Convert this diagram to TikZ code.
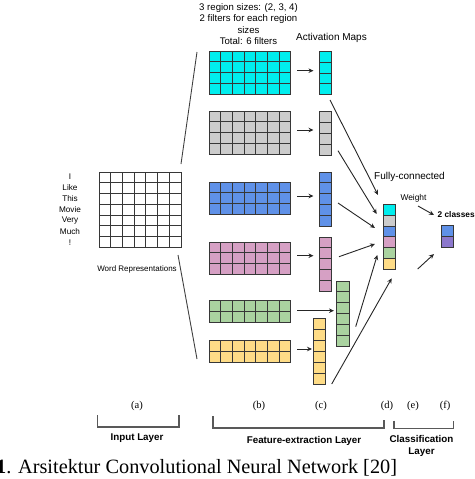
\documentclass[tikz,border=0pt]{standalone}
\usepackage{fontspec}
\setmainfont{Liberation Sans}
\newfontfamily\serifcap{Liberation Serif}
\usetikzlibrary{arrows.meta}
\definecolor{ccyan}{RGB}{0,238,238}
\definecolor{cgray}{RGB}{204,204,204}
\definecolor{cblue}{RGB}{95,145,232}
\definecolor{cpink}{RGB}{214,160,196}
\definecolor{cgreen}{RGB}{170,211,160}
\definecolor{cyellow}{RGB}{254,220,135}
\definecolor{cpurple}{RGB}{140,120,205}
\definecolor{edge}{RGB}{55,55,55}
\tikzset{
  cellline/.style={draw=edge, line width=0.9pt},
  outline/.style={draw=none, inner sep=0pt, outer sep=0pt},
  arr/.style={draw=black!85, line width=0.9pt, -{Stealth[length=5pt,width=4.5pt]}},
  thin line/.style={draw=black!75, line width=0.9pt},
  brk/.style={draw=black!65, line width=1.1pt},
  lbl/.style={font=\fontsize{9.6}{11.4}\selectfont, inner sep=0pt, align=center},
  small/.style={font=\fontsize{8.2}{9}\selectfont, inner sep=0pt},
  letter/.style={font=\serifcap\fontsize{10.5}{12}\selectfont, inner sep=0pt},
  layer/.style={font=\bfseries\fontsize{9.8}{11.5}\selectfont, inner sep=0pt, align=center},
}
% name, x, y, cols, rows, cw, ch, color
\newcommand\mygrid[8]{%
  \foreach \i in {1,...,#4}{\foreach \j in {1,...,#5}{%
    \path[cellline, fill=#8] ({#2+(\i-1)*#6},{#3+(\j-1)*#7}) rectangle ++(#6,#7);}}%
  \node[outline, anchor=north west, minimum width=#4*#6pt, minimum height=#5*#7pt] (#1) at (#2,#3) {};%
}
\begin{document}
\begin{tikzpicture}[x=1pt,y=-1pt]
\useasboundingbox (0,0) rectangle (474,479);
% input
\mygrid{inp}{99}{172}{7}{7}{11.71}{10.75}{white}
\foreach \w [count=\k] in {I,Like,This,Movie,Very,Much,!}{
  \node[small] (w\k) at (70,{166+\k*10.9}) {\w};
}
\node[small, font=\fontsize{8}{9}\selectfont] (wr) at (137,269) {Word Representations};
% filters
\mygrid{cyanF}{209}{51}{7}{4}{11.7}{10.9}{ccyan}
\mygrid{grayF}{209}{111}{7}{4}{11.7}{10.9}{cgray}
\mygrid{blueF}{209}{182}{7}{3}{11.7}{10.9}{cblue}
\mygrid{pinkF}{209}{242}{7}{3}{11.7}{10.9}{cpink}
\mygrid{greenF}{209}{300}{7}{2}{11.7}{11.1}{cgreen}
\mygrid{yellowF}{209}{340}{7}{2}{11.7}{11.1}{cyellow}
% activation maps
\mygrid{cyanA}{319.5}{51.5}{1}{4}{12.2}{10.8}{ccyan}
\mygrid{grayA}{319.5}{111}{1}{4}{12.2}{11}{cgray}
\mygrid{blueA}{319.5}{172}{1}{5}{12.2}{10.8}{cblue}
\mygrid{pinkA}{319.5}{237}{1}{5}{12.2}{10.8}{cpink}
\mygrid{greenA}{336.8}{281}{1}{6}{12.2}{10.85}{cgreen}
\mygrid{yellowA}{313.5}{318}{1}{6}{12.2}{11}{cyellow}
% fully connected
\foreach \c [count=\k] in {ccyan,cgray,cblue,cpink,cgreen,cyellow}{
  \path[cellline, fill=\c] (383.5,{204.3+(\k-1)*10.85}) rectangle ++(11.7,10.85);
}
\node[outline, anchor=north west, minimum width=11.7pt, minimum height=65.1pt] (fc) at (383.5,204.3) {};
% output
\path[cellline, fill=cblue] (441,225.7) rectangle ++(12.3,11);
\path[cellline, fill=cpurple] (441,236.7) rectangle ++(12.3,11);
\node[outline, anchor=north west, minimum width=12.3pt, minimum height=22pt] (outc) at (441,225.7) {};
% texts
\node[lbl] (top) at (248.5,24) {3 region sizes: (2, 3, 4)\\2 filters for each region\\sizes\\Total: 6 filters};
\node[lbl, font=\fontsize{10}{12}\selectfont] (am) at (331.5,37.7) {Activation Maps};
\node[lbl, font=\fontsize{10}{12}\selectfont] (fcl) at (409.5,176.7) {Fully-connected};
\node[small, font=\fontsize{8.4}{9}\selectfont] (wt) at (413.5,198) {Weight};
\node[small, font=\bfseries\fontsize{8.3}{9}\selectfont, anchor=west] (cls) at (437.5,214.3) {2 classes};
% spread lines
\coordinate (l1a) at (181,164); \coordinate (l1b) at (197,52);
\coordinate (l2a) at (178,255); \coordinate (l2b) at (197,359);
\draw[thin line] (l1a) -- (l1b);
\draw[thin line] (l2a) -- (l2b);
% filter -> activation arrows
\coordinate (f1) at (297,70.7);  \coordinate (g1) at (313.5,70.7);
\coordinate (f2) at (297,130);   \coordinate (g2) at (313.5,130);
\coordinate (f3) at (297,196);   \coordinate (g3) at (313.5,196);
\coordinate (f4) at (297,255.7); \coordinate (g4) at (313.5,255.7);
\coordinate (f5) at (297,310.7); \coordinate (g5) at (334,310.7);
\coordinate (f6) at (297,349);   \coordinate (g6) at (312,349);
\foreach \k in {1,...,6}{\draw[arr] (f\k) -- (g\k);}
% activation -> fc
\coordinate (a1s) at (330,100); \coordinate (a1e) at (378,195);
\coordinate (a2s) at (338,150.7); \coordinate (a2e) at (376.7,214);
\coordinate (a3s) at (338,203); \coordinate (a3e) at (375,228);
\coordinate (a4s) at (339,256.7); \coordinate (a4e) at (375,244);
\coordinate (a5s) at (355.7,326.7); \coordinate (a5e) at (377.3,255);
\coordinate (a6s) at (331.7,384); \coordinate (a6e) at (391.7,278.3);
\foreach \k in {1,...,6}{\draw[arr] (a\k s) -- (a\k e);}
\coordinate (o1s) at (418,206); \coordinate (o1e) at (434,215);
\coordinate (o2s) at (417.7,269); \coordinate (o2e) at (434,254);
\draw[arr] (o1s) -- (o1e);
\draw[arr] (o2s) -- (o2e);
% letters
\node[letter] (la) at (137,405.7) {(a)};
\node[letter] (lb) at (259,405.7) {(b)};
\node[letter] (lc) at (321,405.7) {(c)};
\node[letter] (ld) at (387,405.7) {(d)};
\node[letter] (le) at (413,405.7) {(e)};
\node[letter] (lf) at (445,405.7) {(f)};
% brackets
\draw[brk] (97.5,415) -- (97.5,427) -- (179,427) -- (179,415);
\draw[brk] (213,416) -- (213,428) -- (384,428) -- (384,420);
\draw[brk] (394,420.5) -- (394,428.5) -- (453.5,428.5) -- (453.5,420.5);
\node[layer] (il) at (137,438.5) {Input Layer};
\node[layer] (fl) at (304,440.5) {Feature-extraction Layer};
\node[layer] (cl) at (421.5,446) {Classification\\Layer};
% caption
\node[inner sep=0pt, anchor=base west, font=\serifcap\fontsize{20.3}{24}\selectfont] (cap) at (-4,473) {\textbf{1}. Arsitektur Convolutional Neural Network [20]};
\end{tikzpicture}
\end{document}
